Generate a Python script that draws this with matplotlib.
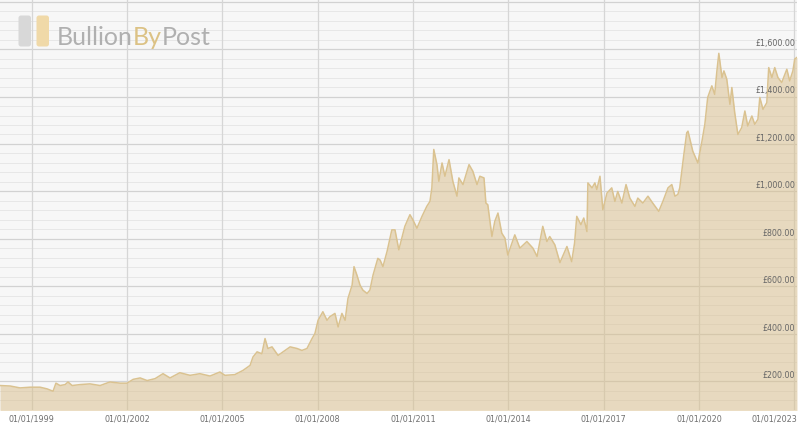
import matplotlib
matplotlib.use("Agg")
import matplotlib.pyplot as plt
from matplotlib.patches import FancyBboxPatch
from matplotlib.transforms import IdentityTransform, blended_transform_factory

# gold price in GBP per ounce (decimal years)
years = [
    1998.00, 1998.32, 1998.63, 1998.95, 1999.26, 1999.48, 1999.67, 1999.76, 1999.89, 2000.05,
    2000.14, 2000.27, 2000.52, 2000.83, 2001.15, 2001.46, 2001.78, 2002.00, 2002.19, 2002.41,
    2002.63, 2002.88, 2003.13, 2003.35, 2003.66, 2003.98, 2004.29, 2004.61, 2004.92, 2005.08,
    2005.39, 2005.65, 2005.87, 2005.96, 2006.09, 2006.24, 2006.34, 2006.43, 2006.56, 2006.75,
    2006.91, 2007.13, 2007.35, 2007.50, 2007.66, 2007.82, 2007.91, 2008.01, 2008.16, 2008.29,
    2008.38, 2008.54, 2008.64, 2008.76, 2008.86, 2008.95, 2009.08, 2009.14, 2009.23, 2009.33,
    2009.42, 2009.55, 2009.64, 2009.74, 2009.89, 2009.96, 2010.05, 2010.18, 2010.33, 2010.43,
    2010.55, 2010.74, 2010.90, 2010.99, 2011.12, 2011.28, 2011.43, 2011.53, 2011.59, 2011.65,
    2011.75, 2011.81, 2011.91, 2012.00, 2012.13, 2012.25, 2012.38, 2012.44, 2012.57, 2012.76,
    2012.88, 2013.01, 2013.10, 2013.23, 2013.29, 2013.35, 2013.48, 2013.57, 2013.67, 2013.79,
    2013.89, 2013.98, 2014.20, 2014.36, 2014.58, 2014.77, 2014.90, 2015.08, 2015.21, 2015.30,
    2015.46, 2015.62, 2015.84, 2015.99, 2016.08, 2016.15, 2016.28, 2016.37, 2016.47, 2016.50,
    2016.63, 2016.72, 2016.78, 2016.88, 2016.97, 2017.10, 2017.25, 2017.35, 2017.44, 2017.57,
    2017.70, 2017.82, 2017.98, 2018.07, 2018.23, 2018.39, 2018.54, 2018.73, 2018.86, 2019.02,
    2019.14, 2019.24, 2019.33, 2019.39, 2019.52, 2019.61, 2019.65, 2019.80, 2019.96, 2020.09,
    2020.18, 2020.27, 2020.40, 2020.49, 2020.56, 2020.62, 2020.72, 2020.78, 2020.87, 2020.97,
    2021.03, 2021.12, 2021.22, 2021.34, 2021.44, 2021.53, 2021.66, 2021.75, 2021.85, 2021.91,
    2022.01, 2022.13, 2022.19, 2022.29, 2022.38, 2022.48, 2022.60, 2022.76, 2022.85, 2022.95,
    2023.01, 2023.08,
]
prices = [
    182, 180, 172, 175, 175, 168, 158, 192, 182, 186,
    197, 182, 186, 189, 182, 197, 192, 192, 208, 214,
    203, 211, 232, 214, 236, 225, 232, 222, 239, 225,
    228, 246, 267, 302, 324, 316, 380, 338, 345, 309,
    324, 345, 338, 330, 338, 380, 401, 457, 493, 457,
    472, 486, 429, 486, 457, 549, 605, 683, 648, 605,
    584, 570, 584, 648, 718, 711, 683, 747, 838, 838,
    754, 853, 902, 881, 845, 895, 937, 958, 1015, 1177,
    1113, 1043, 1120, 1064, 1134, 1043, 980, 1057, 1029, 1113,
    1085, 1029, 1064, 1057, 951, 944, 810, 874, 909, 824,
    803, 732, 817, 761, 789, 761, 726, 853, 789, 810,
    775, 700, 768, 704, 782, 895, 860, 888, 831, 1036,
    1015, 1036, 1008, 1064, 923, 993, 1015, 958, 1000, 951,
    1029, 972, 937, 972, 951, 980, 951, 916, 958, 1015,
    1029, 980, 987, 1015, 1156, 1247, 1254, 1170, 1120, 1212,
    1283, 1396, 1445, 1409, 1508, 1582, 1480, 1508, 1473, 1367,
    1438, 1332, 1240, 1269, 1339, 1276, 1318, 1283, 1304, 1396,
    1346, 1374, 1522, 1480, 1522, 1480, 1459, 1515, 1466, 1508,
    1558, 1565,
]

tick_years = [1999, 2002, 2005, 2008, 2011, 2014, 2017, 2020, 2023]
tick_labels = ["01/01/%d" % y for y in tick_years]
price_ticks = [200, 400, 600, 800, 1000, 1200, 1400, 1600]
price_labels = ["£%s.00" % format(p, ",") for p in price_ticks]

fig = plt.figure(figsize=(8, 4.31), dpi=100)
fig.patch.set_facecolor("white")
ax = fig.add_axes([0, 20.5 / 431, 797 / 800, 410.5 / 431])
ax.set_facecolor("#f7f7f7")
for s in ax.spines.values():
    s.set_visible(False)
ax.set_xticks([])
ax.set_yticks([])
ax.set_xlim(1998.0, 2023.08)
ax.set_ylim(81, 1811)

# grid
for v in range(80, 1840, 40):
    if v % 200 == 0:
        ax.axhline(v, color="#d2d2d2", lw=0.9, zorder=1)
    else:
        ax.axhline(v, color="#e7e7e7", lw=0.7, zorder=0.5)
for y in tick_years:
    ax.axvline(y, color="#d6d6d6", lw=0.9, zorder=1)

ax.fill_between(years, prices, 0, color="#d8bd88", alpha=0.5, lw=0, zorder=2)
ax.plot(years, prices, color="#dac290", lw=1.1, zorder=3)

# price labels on the right
for p, lab in zip(price_ticks, price_labels):
    ax.text(0.9975, p + 9, lab, transform=blended_transform_factory(ax.transAxes, ax.transData),
            ha="right", va="bottom", fontsize=5.7, color="#666666", zorder=4)

# date labels under the plot
tr = blended_transform_factory(ax.transData, ax.transAxes)
for y, lab in zip(tick_years, tick_labels):
    if y == tick_years[-1]:
        ax.text(1.0, -0.021, lab, transform=ax.transAxes, ha="right", va="center",
                fontsize=5.8, color="#707070", clip_on=False)
    else:
        ax.text(y, -0.021, lab, transform=tr, ha="center", va="center",
                fontsize=5.8, color="#707070", clip_on=False)

# logo
H = 431
for x0, col in [(18.5, "#d8d8d8"), (36.5, "#f0d9a8")]:
    box = FancyBboxPatch((x0, H - 47.5), 12.5, 31, boxstyle="round,pad=0,rounding_size=2.5",
                         transform=IdentityTransform(), facecolor=col, edgecolor="none", zorder=5)
    fig.add_artist(box)

logo_font = dict(family=["Lato", "DejaVu Sans"], weight="normal")
base_y = (H - 45) / H
parts = [("Bullion", "#b0b0b0"), ("By", "#dcc285"), ("Post", "#b0b0b0")]
# pick the size that gives the logo its width in the picture (about 154 px)
r = fig.canvas.get_renderer()
probe = fig.text(0, 0, "BullionByPost", fontsize=20, **logo_font)
w = probe.get_window_extent(r).width
probe.remove()
size = 20 * 154 / w
x = 57
for word, col in parts:
    t = fig.text(x / 800, base_y, word, color=col, va="baseline", fontsize=size, **logo_font)
    x = t.get_window_extent(r).x1

fig.savefig("out.png", dpi=100)
